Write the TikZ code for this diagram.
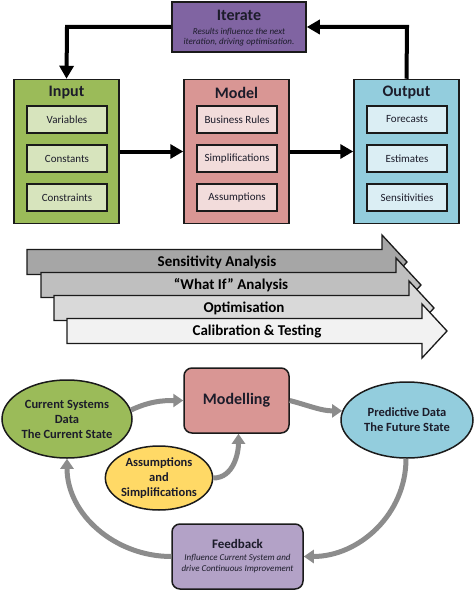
\documentclass[tikz,border=0pt]{standalone}
\usepackage{fontspec}
\setmainfont{Carlito}
\usepackage{tikz}
\usetikzlibrary{arrows.meta, shapes.geometric, positioning}

\definecolor{iterc}{HTML}{8064A2}
\definecolor{inc}{HTML}{9BBB59}
\definecolor{insub}{HTML}{D7E4BD}
\definecolor{modc}{HTML}{D99694}
\definecolor{modsub}{HTML}{F2DCDB}
\definecolor{outc}{HTML}{93CDDD}
\definecolor{outsub}{HTML}{DBEEF4}
\definecolor{assc}{HTML}{FFD966}
\definecolor{fbc}{HTML}{B3A2C7}
\definecolor{bandA}{HTML}{A6A6A6}
\definecolor{bandB}{HTML}{BFBFBF}
\definecolor{bandC}{HTML}{D9D9D9}
\definecolor{bandD}{HTML}{F2F2F2}
\definecolor{loopc}{HTML}{8C8C8C}
\definecolor{edge}{HTML}{1A1A1A}
\definecolor{ink}{HTML}{1C1C2A}

\tikzset{
  bigbox/.style={draw=edge, line width=1.5pt, minimum width=105pt, minimum height=144pt, inner sep=0pt},
  subbox/.style={draw=edge, line width=1.5pt, minimum width=80pt, minimum height=27pt, inner sep=0pt,
    font=\fontsize{11}{13}\selectfont, text=ink},
  boxtitle/.style={font=\bfseries\fontsize{16}{18}\selectfont, text=ink, inner sep=0pt},
  note/.style={font=\itshape\fontsize{9}{10}\selectfont, text=ink, align=center, inner sep=0pt},
  blob/.style={ellipse, draw=edge, line width=1.5pt, inner sep=0pt, align=center,
    font=\bfseries\fontsize{12.5}{15}\selectfont, text=ink},
  rbox/.style={draw=edge, line width=1.5pt, rounded corners=8pt, inner sep=0pt, align=center, text=ink},
  flow/.style={line width=4pt, black, -{Triangle[length=13pt,width=14pt]}},
  loop/.style={line width=5pt, loopc, -{Triangle[length=10pt,width=13pt]}},
  band/.style={draw=edge, line width=1.3pt},
  bandtext/.style={font=\bfseries\fontsize{15}{17}\selectfont, inner sep=0pt}
}

\begin{document}
\begin{tikzpicture}[x=1pt, y=-1pt]
  \useasboundingbox (0,0) rectangle (474,591);

  % top row: input -> model -> output
  \node[bigbox, fill=inc] (in) at (66.5,151.5) {};
  \node[boxtitle] (intitle) at ([yshift=-14pt]in.north) {Input};
  \node[subbox, fill=insub] (var) at (67,119.5) {Variables};
  \node[subbox, fill=insub] (con) at (67,158.5) {Constants};
  \node[subbox, fill=insub] (cst) at (67,197.5) {Constraints};

  \node[bigbox, fill=modc] (mod) at (236.5,151.5) {};
  \node[boxtitle] (modtitle) at ([yshift=-14pt]mod.north) {Model};
  \node[subbox, fill=modsub] (rules) at (237,119.5) {Business Rules};
  \node[subbox, fill=modsub] (simp) at (237,158.5) {Simplifications};
  \node[subbox, fill=modsub] (assm) at (237,197.5) {Assumptions};

  \node[bigbox, fill=outc] (out) at (406.5,151.5) {};
  \node[boxtitle] (outtitle) at ([yshift=-14pt]out.north) {Output};
  \node[subbox, fill=outsub] (fore) at (407,119.5) {Forecasts};
  \node[subbox, fill=outsub] (est) at (407,158.5) {Estimates};
  \node[subbox, fill=outsub] (sens) at (407,197.5) {Sensitivities};

  \node[draw=edge, line width=1.5pt, fill=iterc, minimum width=134pt, minimum height=50pt] (iter) at (239,27) {};
  \node[boxtitle] (itertitle) at ([yshift=-14pt]iter.north) {Iterate};
  \node[note] (iternote) at ([yshift=-36pt]iter.north) {Results influence the next\\iteration, driving optimisation.};

  \coordinate (iterL) at (67,27);
  \coordinate (iterR) at (407,27);

  \draw[flow] (in.east) -- (mod.west);
  \draw[flow] (mod.east) -- (out.west);
  \draw[flow] (out.north) -- (iterR) -- (iter.east);
  \draw[flow] (iter.west) -- (iterL) -- (in.north);

  % the grey bands
  \foreach \lx/\cy/\col/\lab [count=\i] in {27/262/bandA/Sensitivity Analysis,
      41/285/bandB/“What If” Analysis, 54/308/bandC/Optimisation,
      67/331/bandD/Calibration \& Testing} {
    \draw[band, fill=\col] (\lx,{\cy-12.5}) -- ({\lx+355},{\cy-12.5}) -- ({\lx+355},{\cy-27})
      -- ({\lx+380},\cy) -- ({\lx+355},{\cy+27}) -- ({\lx+355},{\cy+12.5}) -- (\lx,{\cy+12.5}) -- cycle;
    \node[bandtext] (band\i) at ({\lx+190},\cy) {\lab};
  }

  % bottom cycle
  \node[blob, fill=inc, minimum width=130pt, minimum height=78pt] (cur) at (67,419)
    {Current Systems\\Data\\The Current State};
  \node[rbox, fill=modc, minimum width=105pt, minimum height=65pt,
    font=\bfseries\fontsize{16}{18}\selectfont] (mdl) at (236.5,400.5) {Modelling};
  \node[blob, fill=outc, minimum width=132pt, minimum height=76pt] (pred) at (407,420)
    {Predictive Data\\The Future State};
  \node[blob, fill=assc, minimum width=106pt, minimum height=64pt] (ass) at (159,478)
    {Assumptions\\and\\Simplifications};
  \node[rbox, fill=fbc, minimum width=131pt, minimum height=65pt] (fb) at (237.5,556.5) {};
  \node[boxtitle, font=\bfseries\fontsize{13}{15}\selectfont] (fbtitle) at ([yshift=-21pt]fb.north) {Feedback};
  \node[note, font=\itshape\fontsize{9}{11}\selectfont] (fbnote) at ([yshift=-40.5pt]fb.north)
    {Influence Current System and\\drive Continuous Improvement};

  \draw[loop] (cur.8) to[out=25, in=180] (mdl.west);
  \draw[loop] (mdl.east) to[out=-15, in=180] (pred.172);
  \draw[loop] (ass.east) to[out=0, in=-90] ([xshift=2pt]mdl.south);
  \draw[loop] ([xshift=-1pt]pred.south) to[out=-90, in=0] (fb.east);
  \draw[loop] (fb.west) to[out=180, in=-90] (cur.south);

\end{tikzpicture}
\end{document}
